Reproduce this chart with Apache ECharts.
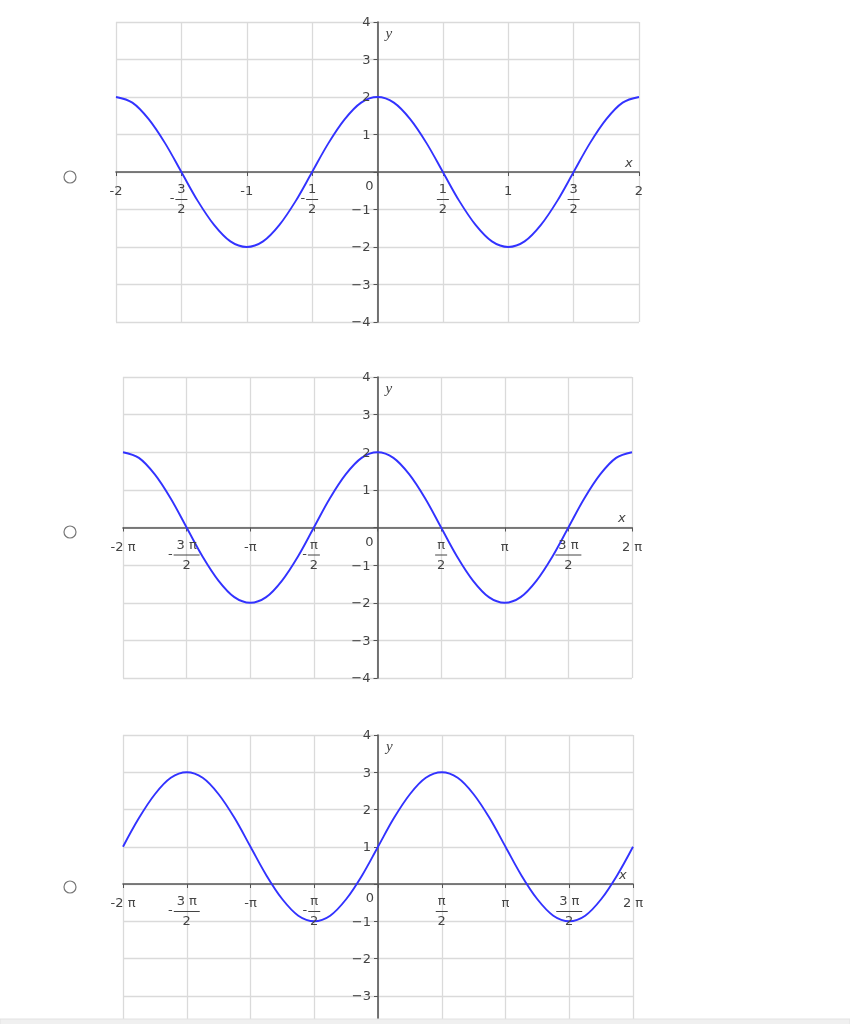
<!DOCTYPE html>
<html>
<head>
<meta charset="utf-8">
<title>Graphs</title>
<script src="https://cdn.jsdelivr.net/npm/echarts@6/dist/echarts.min.js"></script>
<style>
  html, body { margin: 0; padding: 0; background: #fff; overflow: hidden; }
  #chart { width: 850px; height: 1060px; }
</style>
</head>
<body>
<div id="chart"></div>
<script>
// x sample points: panel 1 in plain units, panels 2 and 3 in multiples of π
var xSamples = [-2, -1.875, -1.75, -1.625, -1.5, -1.375, -1.25, -1.125, -1,
  -0.875, -0.75, -0.625, -0.5, -0.375, -0.25, -0.125, 0,
  0.125, 0.25, 0.375, 0.5, 0.625, 0.75, 0.875, 1,
  1.125, 1.25, 1.375, 1.5, 1.625, 1.75, 1.875, 2];

// values
var curveTop = [2, 1.85, 1.41, 0.77, 0, -0.77, -1.41, -1.85, -2, -1.85, -1.41, -0.77, 0, 0.77, 1.41, 1.85, 2,
  1.85, 1.41, 0.77, 0, -0.77, -1.41, -1.85, -2, -1.85, -1.41, -0.77, 0, 0.77, 1.41, 1.85, 2];
var curveMiddle = [2, 1.85, 1.41, 0.77, 0, -0.77, -1.41, -1.85, -2, -1.85, -1.41, -0.77, 0, 0.77, 1.41, 1.85, 2,
  1.85, 1.41, 0.77, 0, -0.77, -1.41, -1.85, -2, -1.85, -1.41, -0.77, 0, 0.77, 1.41, 1.85, 2];
var curveBottom = [1, 1.77, 2.41, 2.85, 3, 2.85, 2.41, 1.77, 1, 0.23, -0.41, -0.85, -1, -0.85, -0.41, 0.23, 1,
  1.77, 2.41, 2.85, 3, 2.85, 2.41, 1.77, 1, 0.23, -0.41, -0.85, -1, -0.85, -0.41, 0.23, 1];

// x tick labels (numerator / denominator when it is a fraction)
var xTickValues = [-2, -1.5, -1, -0.5, 0, 0.5, 1, 1.5, 2];
var xTickDens = ['', '2', '', '2', '', '2', '', '2', ''];
var plainTickTops = ['-2', '3', '-1', '1', '0', '1', '1', '3', '2'];
var piTickTops = ['-2 π', '3 π', '-π', 'π', '0', 'π', 'π', '3 π', '2 π'];

// y tick labels, drawn beside the y axis
var yTickValues = [4, 3, 2, 1, -1, -2, -3, -4];
var yTickTexts = ['4', '3', '2', '1', '\u22121', '\u22122', '\u22123', '\u22124'];

var labelColor = '#444';
var labelFont = '13px "DejaVu Sans"';
var gridColor = '#dadada';
var axisColor = '#555';
var curveColor = '#3232ff';

var panels = [
  { box: { left: 116, top: 22, width: 523, height: 300 }, curve: curveTop, tops: plainTickTops },
  { box: { left: 123, top: 377, width: 509, height: 301 }, curve: curveMiddle, tops: piTickTops },
  { box: { left: 123, top: 735, width: 510, height: 298 }, curve: curveBottom, tops: piTickTops }
];

function txt(s, x, y, align) {
  return {
    type: 'text', x: x, y: y,
    style: { text: s, fill: labelColor, font: labelFont, align: align || 'center', verticalAlign: 'middle' }
  };
}

// draws the x tick labels, with a bar for the fractions
function xLabelRenderer(tops) {
  return function (params, api) {
    var i = params.dataIndex;
    var v = api.value(0);
    var p = api.coord([v, 0]);
    var top = tops[i], den = xTickDens[i];
    if (top === '0') return txt('0', p[0] - 8, p[1] + 15);
    if (!den) return txt(top, p[0], p[1] + 20);
    var w = top.length > 1 ? 26 : 12;
    var kids = [
      txt(top, p[0], p[1] + 18),
      { type: 'line', shape: { x1: p[0] - w / 2, y1: p[1] + 27.5, x2: p[0] + w / 2, y2: p[1] + 27.5 },
        style: { stroke: labelColor, lineWidth: 1 } },
      txt(den, p[0], p[1] + 38)
    ];
    if (v < 0) kids.push(txt('-', p[0] - w / 2 - 1, p[1] + 27, 'right'));
    return { type: 'group', children: kids };
  };
}

function yLabelRenderer(params, api) {
  var p = api.coord([0, api.value(1)]);
  return txt(yTickTexts[params.dataIndex], p[0] - 7, p[1] + 1, 'right');
}

var grid = [], xAxis = [], yAxis = [], series = [];
panels.forEach(function (pn, k) {
  grid.push(pn.box);
  xAxis.push({
    type: 'value', gridIndex: k, min: -2, max: 2, interval: 0.5,
    name: 'x', nameLocation: 'end', nameGap: -14,
    nameTextStyle: { fontFamily: 'DejaVu Sans', fontStyle: 'italic', fontSize: 13, color: labelColor,
      align: 'left', verticalAlign: 'bottom', padding: [0, 0, 2, 0] },
    axisLine: { onZero: true, lineStyle: { color: axisColor, width: 1.6 } },
    axisTick: { show: true, length: 4, lineStyle: { color: axisColor } },
    axisLabel: { show: false },
    splitLine: { show: true, lineStyle: { color: gridColor, width: 1.3 } }
  });
  yAxis.push({
    type: 'value', gridIndex: k, min: -4, max: 4, interval: 1,
    name: 'y', nameLocation: 'end', nameGap: -20,
    nameTextStyle: { fontFamily: 'Liberation Serif', fontStyle: 'italic', fontSize: 15, color: labelColor,
      align: 'left', verticalAlign: 'bottom', padding: [0, 0, 0, 8] },
    axisLine: { onZero: true, lineStyle: { color: axisColor, width: 1.6 } },
    axisTick: { show: true, length: 4, lineStyle: { color: axisColor } },
    axisLabel: { show: false },
    splitLine: { show: true, lineStyle: { color: gridColor, width: 1.3 } }
  });
  series.push({
    type: 'line', xAxisIndex: k, yAxisIndex: k, showSymbol: false, smooth: 0.35, silent: true,
    lineStyle: { color: curveColor, width: 1.9 },
    data: xSamples.map(function (x, i) { return [x, pn.curve[i]]; }),
    z: 3
  });
  series.push({
    type: 'custom', xAxisIndex: k, yAxisIndex: k, silent: true, z: 4,
    renderItem: xLabelRenderer(pn.tops),
    data: xTickValues.map(function (v) { return [v, 0]; })
  });
  series.push({
    type: 'custom', xAxisIndex: k, yAxisIndex: k, silent: true, z: 4,
    renderItem: yLabelRenderer,
    data: yTickValues.map(function (v) { return [0, v]; })
  });
});

var chart = echarts.init(document.getElementById('chart'), null, { renderer: 'canvas' });
chart.setOption({
  animation: false,
  backgroundColor: '#fff',
  grid: grid,
  xAxis: xAxis,
  yAxis: yAxis,
  series: series,
  graphic: [
    { type: 'circle', shape: { cx: 70, cy: 177, r: 6 }, style: { fill: '#fff', stroke: '#777', lineWidth: 1.2 } },
    { type: 'circle', shape: { cx: 70, cy: 532, r: 6 }, style: { fill: '#fff', stroke: '#777', lineWidth: 1.2 } },
    { type: 'circle', shape: { cx: 70, cy: 887, r: 6 }, style: { fill: '#fff', stroke: '#777', lineWidth: 1.2 } },
    { type: 'rect', shape: { x: 0, y: 1019, width: 850, height: 41 }, style: { fill: '#f0f0f0', stroke: '#e2e2e2', lineWidth: 1 }, z: 100 }
  ]
});
</script>
</body>
</html>
